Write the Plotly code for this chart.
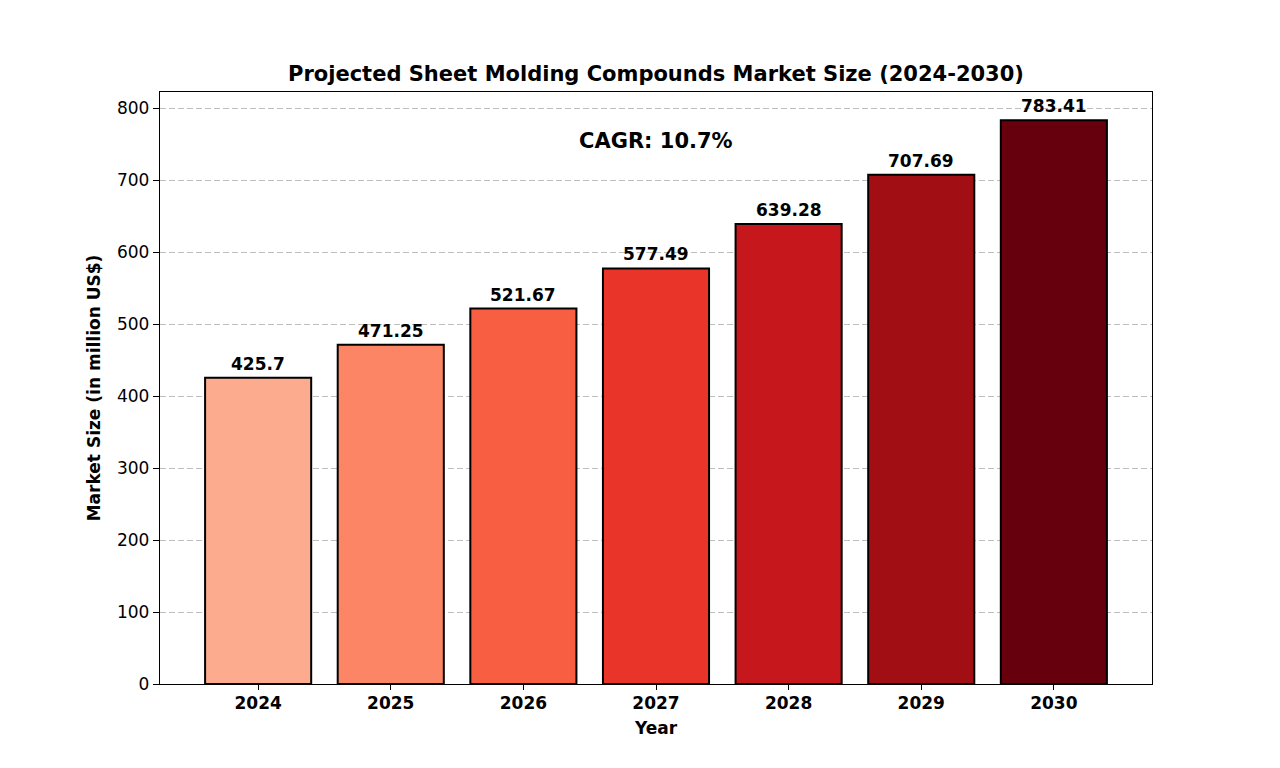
import plotly.graph_objects as go

# ------------------------------------------------------------
# Data
# ------------------------------------------------------------
years = ["2024", "2025", "2026", "2027", "2028", "2029", "2030"]
market_size = [425.7, 471.25, 521.67, 577.49, 639.28, 707.69, 783.41]
bar_colors = ["#fcab8e", "#fc8565", "#f85e42", "#e83429",
              "#c6171c", "#a10e14", "#67000d"]
cagr_text = "CAGR: 10.7%"

FONT = "DejaVu Sans"

fig = go.Figure()

fig.add_trace(go.Bar(
    x=years, y=market_size,
    width=0.8,
    marker=dict(color=bar_colors, line=dict(color="black", width=2)),
    showlegend=False,
))

# value labels above each bar (x given as category index)
for i, val in enumerate(market_size):
    fig.add_annotation(
        x=i, y=val, xref="x", yref="y", text=f"<b>{val}</b>",
        showarrow=False, yanchor="bottom", yshift=2,
        font=dict(family=FONT, size=17, color="black"),
    )

# CAGR text
fig.add_annotation(
    x=0.5, y=0.917, xref="paper", yref="paper",
    text=f"<b>{cagr_text}</b>", showarrow=False,
    xanchor="center", yanchor="middle",
    font=dict(family=FONT, size=21, color="black"),
)

# the page has an 8px body margin, so margins are shifted to compensate
fig.update_layout(
    width=1280, height=768,
    margin=dict(l=152, r=136, t=84, b=92),
    paper_bgcolor="white", plot_bgcolor="white",
    title=dict(
        text="<b>Projected Sheet Molding Compounds Market Size (2024-2030)</b>",
        x=(656 - 8) / 1280, xanchor="center",
        y=1 - 66 / 768, yanchor="middle",
        font=dict(family=FONT, size=21, color="black"),
    ),
    font=dict(family=FONT, size=17, color="black"),
    bargap=0.2,
)

fig.update_xaxes(
    type="category",
    range=[-0.74, 6.74],
    showline=True, linecolor="black", linewidth=1.3, mirror=True,
    ticks="outside", ticklen=5, tickwidth=1.3, tickcolor="black",
    tickfont=dict(family=FONT, size=17, color="black", weight="bold"),
    ticklabelstandoff=-2,
    showgrid=False,
    title=dict(text="<b>Year</b>", font=dict(family=FONT, size=17), standoff=10),
)

fig.update_yaxes(
    range=[0, 822.58],
    tickvals=[0, 100, 200, 300, 400, 500, 600, 700, 800],
    showline=True, linecolor="black", linewidth=1.3, mirror=True,
    ticks="outside", ticklen=6, tickwidth=1.3, tickcolor="black",
    tickfont=dict(family=FONT, size=17, color="black"),
    showgrid=True, gridcolor="#bfbfbf", gridwidth=1.3, griddash="6px,3px",
    zeroline=False,
    layer="above traces",
    title=dict(text="<b>Market Size (in million US$)</b>",
               font=dict(family=FONT, size=17), standoff=12),
)

fig.write_html("out.html")
